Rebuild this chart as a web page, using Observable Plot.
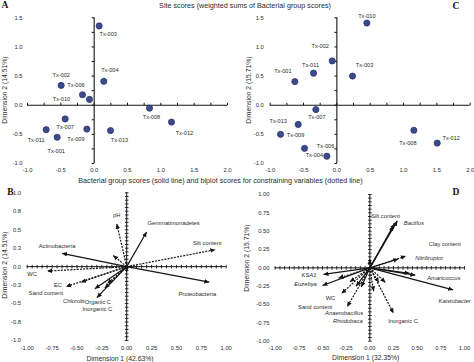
<!DOCTYPE html>
<html><head><meta charset="utf-8">
<script src="https://cdn.jsdelivr.net/npm/d3@7"></script>
<script src="https://cdn.jsdelivr.net/npm/@observablehq/plot@0.6"></script>
<style>
body{margin:0;background:#fff;}
#root{position:relative;width:474px;height:362px;overflow:hidden;background:#fff;font-family:"Liberation Sans",Arial,sans-serif;color:#2b2b2b;}
.panel{position:absolute;}
.t{position:absolute;white-space:nowrap;line-height:1;transform:translate(-50%,-50%);}
.v{transform:translate(-50%,-50%) rotate(-90deg);}
.letter{font-family:"Liberation Serif","Times New Roman",serif;font-weight:bold;color:#111;}
</style></head><body><div id="root"></div>
<script>
// ---------- data ----------
const siteNames = ["Tx-001","Tx-002","Tx-003","Tx-004","Tx-006","Tx-007","Tx-008","Tx-009","Tx-010","Tx-011","Tx-012","Tx-013"];
const siteDim1A = [-0.555,-0.495,0.075,0.145,-0.175,-0.435,0.83,-0.11,-0.07,-0.72,1.16,0.245];
const siteDim2A = [-0.55,0.34,1.36,0.41,0.18,-0.235,-0.05,-0.41,0.10,-0.42,-0.29,-0.435];
const siteDim1C = [-0.63,-0.07,0.235,-0.15,-0.485,-0.315,1.155,-0.845,0.45,-0.35,1.505,-0.58];
const siteDim2C = [0.405,0.76,0.50,-0.875,-0.74,-0.075,-0.43,-0.50,1.41,0.55,-0.65,-0.33];

const groupNamesB = ["Actinobacteria","Gemmatimonadetes","Proteobacteria","Chlorobi",""];
const groupDim1B  = [-0.65,0.20,0.83,-0.30,-0.32];
const groupDim2B  = [0.18,0.47,-0.21,-0.42,-0.30];
const varNamesB = ["pH","Silt content","WC","EC","Sand content","Organic C","Inorganic C","",""];
const varDim1B  = [-0.10,0.89,-0.80,-0.61,-0.46,-0.22,-0.195,-0.135,0.0];
const varDim2B  = [0.58,0.23,-0.06,-0.27,-0.21,-0.29,-0.23,0.15,-0.07];

const groupNamesD = ["Bacillus","Nitriliruptor","Amaricoccus","Kaistobacter","KSA1","Euzebya","Anaerobacillus","Rhodobaca","",""];
const groupDim1D  = [0.29,0.30,0.48,0.88,-0.49,-0.50,-0.145,-0.09,0.26,0.42];
const groupDim2D  = [0.64,0.12,-0.10,-0.30,-0.09,-0.24,-0.25,-0.26,0.60,-0.075];
const varNamesD = ["Silt content","Clay content","WC","Sand content","Inorganic C","","","","","",""];
const varDim1D  = [0.25,0.38,-0.30,-0.24,0.25,-0.21,0.04,0.095,0.165,-0.33,0.0];
const varDim2D  = [0.57,0.16,-0.35,-0.53,-0.62,-0.19,-0.32,-0.20,-0.20,-0.14,0.12];

const siteXTicks = [-1,-0.5,0,0.5,1,1.5,2];
const siteXTickLabels = ["-1.0","-0.5","0.0","0.5","1.0","1.5","2.0"];
const siteYTicks = [-1,-0.5,0,0.5,1,1.5];
const siteYTickLabels = ["-1.0","-0.5","0.0","0.5","1.0","1.5"];
const bipTicks = [-1,-0.75,-0.5,-0.25,0,0.25,0.5,0.75,1];
const bipTickLabels2 = ["-1.00","-0.75","-0.50","-0.25","0.00","0.25","0.50","0.75","1.00"];
const bipYTickLabelsB = ["-1.0","-0.8","-0.5","-0.3","0.0","0.3","0.5","0.8","1.0"];

const titleTop = "Site scores (weighted sums of Bacterial group scores)";
const titleMid = "Bacterial group scores (solid line) and biplot scores for constraining variables (dotted line)";
const yTitleB = "Dimension 2 (14.51%)";
const yTitleD = "Dimension 2 (15.71%)";
const xTitleB = "Dimension 1 (42.63%)";
const xTitleD = "Dimension 1 (32.35%)";

// ---------- label placement (pixel offsets, style only) ----------
const siteLabelOffsetA = {"Tx-001":[-1,13.5],"Tx-002":[0,-10.5],"Tx-003":[9,8],"Tx-004":[6,-11],"Tx-006":[-6.5,-9.5],"Tx-007":[0,8.5],"Tx-008":[2,9.5],"Tx-009":[-11,10.5],"Tx-010":[-28,-0.5],"Tx-011":[-10,11],"Tx-012":[13,11],"Tx-013":[9,9.5]};
const siteLabelOffsetC = {"Tx-001":[-12,-10],"Tx-002":[-12,-15],"Tx-003":[12,-11],"Tx-004":[-12.5,-1],"Tx-006":[21,-2.5],"Tx-007":[1,7.5],"Tx-008":[-6,12.5],"Tx-009":[15,1],"Tx-010":[0,-7],"Tx-011":[-3,-8],"Tx-012":[14,-5],"Tx-013":[-20,-3]};
const labelOffsetB = {"Actinobacteria":[-5,-7],"Gemmatimonadetes":[27,-9],"Proteobacteria":[-12,11.5],"Chlorobi":[-23,3],"pH":[0,-9],"Silt content":[-8,-7],"WC":[-15,3],"EC":[-8,-1],"Sand content":[-35,10.5],"Organic C":[-7,14],"Inorganic C":[-10,26]};
const labelOffsetD = {"Bacillus":[16.5,2.5],"Silt content":[-8,-10],"Nitriliruptor":[31,-1],"Clay content":[39,-12],"Amaricoccus":[28.5,2.5],"Kaistobacter":[1.5,11.5],"KSA1":[-14.5,0.5],"Euzebya":[-17,-1],"WC":[-11,5],"Sand content":[-32,0],"Anaerobacillus":[-12,27],"Rhodobaca":[-13.5,34],"Inorganic C":[9.5,8]};

// ---------- helpers ----------
const root = document.getElementById("root");
const INK = "#151515";
const rOf = size => Math.sqrt(size / Math.PI);
const tickUp = {draw(c, s){const r=rOf(s); c.moveTo(0,0); c.lineTo(0,-r);}};
const tickLeft = {draw(c, s){const r=rOf(s); c.moveTo(0,0); c.lineTo(-r,0);}};
const tickV = {draw(c, s){const r=rOf(s); c.moveTo(0,-r); c.lineTo(0,r);}};
const tickH = {draw(c, s){const r=rOf(s); c.moveTo(-r,0); c.lineTo(r,0);}};
const fmt = (vals, labels) => { const m = new Map(vals.map((v,i)=>[v, labels[i]])); return d => m.get(d); };

function addText(text, cx, cy, size, cls = "", extra = {}) {
  const d = document.createElement("div");
  d.className = "t " + cls;
  d.textContent = text;
  d.style.left = cx + "px"; d.style.top = cy + "px"; d.style.fontSize = size + "px";
  Object.assign(d.style, extra);
  root.appendChild(d);
}
function place(svg, left, top) {
  const wrap = document.createElement("div");
  wrap.className = "panel";
  wrap.style.left = left + "px"; wrap.style.top = top + "px";
  wrap.appendChild(svg);
  root.appendChild(wrap);
}
function fixMarkers(svg) {
  svg.querySelectorAll("marker").forEach(m => {
    const col = m.getAttribute("stroke") || INK;
    m.setAttribute("viewBox", "-5 -5 10 10");
    m.setAttribute("markerUnits", "userSpaceOnUse");
    m.setAttribute("markerWidth", 10);
    m.setAttribute("markerHeight", 10);
    m.setAttribute("fill", col);
    m.setAttribute("stroke", "none");
    m.setAttribute("stroke-dasharray", "none");
    const p = m.querySelector("path");
    p.setAttribute("d", "M-5,-2.3L0,0L-5,2.3Z");
    p.setAttribute("stroke", "none");
    p.setAttribute("fill", col);
  });
}
const svgStyle = {fontFamily: "'Liberation Sans', Arial, sans-serif", fontSize: "5.8px", color: "#2b2b2b", background: "transparent", overflow: "visible"};

// ---------- site score panels (A, C) ----------
function sitePanel(d1, d2, offsets, box) {
  const data = siteNames.map((n,i)=>({name:n, x:d1[i], y:d2[i]}));
  const xMinor = d3.range(-1, 2.001, 0.25);
  const yMinor = d3.range(-1, 1.501, 0.25);
  const svg = Plot.plot({
    width: box.width, height: box.height,
    marginLeft: box.ml, marginRight: box.mr, marginTop: box.mt, marginBottom: box.mb,
    style: svgStyle,
    x: {domain: [-1, 2], ticks: siteXTicks, tickFormat: fmt(siteXTicks, siteXTickLabels), tickSize: 0, tickPadding: box.xpad, label: null},
    y: {domain: [-1, 1.5], ticks: siteYTicks, tickFormat: fmt(siteYTicks, siteYTickLabels), tickSize: 0, tickPadding: box.ypad, label: null},
    marks: [
      Plot.ruleY([0], {x1: () => -1, x2: () => 2, stroke: INK, strokeWidth: 1.1}),
      Plot.ruleX([0], {y1: () => -1, y2: () => 1.5, stroke: INK, strokeWidth: 1.1}),
      Plot.dot(xMinor, {x: d => d, y: () => 0, symbol: tickUp, r: 2.5, stroke: INK, fill: "none", strokeWidth: 1}),
      Plot.dot(yMinor, {x: () => 0, y: d => d, symbol: tickLeft, r: 2.5, stroke: INK, fill: "none", strokeWidth: 1}),
      Plot.dot(data, {x: "x", y: "y", r: 3.1, fill: "#3d4b8e", stroke: "#222c63", strokeWidth: 0.7}),
      ...data.map(d => Plot.text([d], {x: "x", y: "y", text: "name", dx: offsets[d.name][0], dy: offsets[d.name][1], fontSize: 5.6, fill: "#2b2b2b"}))
    ]
  });
  place(svg, box.left, box.top);
}

// ---------- biplot panels (B, D) ----------
function biplotPanel(gNames, gd1, gd2, vNames, vd1, vd2, offsets, yLabels, italicGroups, box) {
  const groups = gNames.map((n,i)=>({name:n, x:gd1[i], y:gd2[i]}));
  const vars = vNames.map((n,i)=>({name:n, x:vd1[i], y:vd2[i]}));
  const minor = d3.range(-1, 1.001, 0.05);
  const svg = Plot.plot({
    width: box.width, height: box.height,
    marginLeft: box.ml, marginRight: box.mr, marginTop: box.mt, marginBottom: box.mb,
    style: svgStyle,
    x: {domain: [-1, 1], ticks: bipTicks, tickFormat: fmt(bipTicks, bipTickLabels2), tickSize: 0, tickPadding: box.xpad, label: null},
    y: {domain: [-1, 1], ticks: bipTicks, tickFormat: fmt(bipTicks, yLabels), tickSize: 0, tickPadding: box.ypad, label: null},
    marks: [
      Plot.ruleY([0], {x1: () => -1, x2: () => 1, stroke: INK, strokeWidth: 1}),
      Plot.ruleX([0], {y1: () => -1, y2: () => 1, stroke: INK, strokeWidth: 1}),
      Plot.dot(minor, {x: d => d, y: () => 0, symbol: tickV, r: 1.8, stroke: INK, fill: "none", strokeWidth: 0.9}),
      Plot.dot(minor, {x: () => 0, y: d => d, symbol: tickH, r: 1.8, stroke: INK, fill: "none", strokeWidth: 0.9}),
      Plot.link(vars, {x1: () => 0, y1: () => 0, x2: "x", y2: "y", stroke: INK, strokeWidth: 1.2, strokeDasharray: "2,1.2", markerEnd: "arrow"}),
      Plot.link(groups, {x1: () => 0, y1: () => 0, x2: "x", y2: "y", stroke: INK, strokeWidth: 1.2, markerEnd: "arrow"}),
      ...vars.filter(d => d.name).map(d => Plot.text([d], {x: "x", y: "y", text: "name", dx: offsets[d.name][0], dy: offsets[d.name][1], fontSize: 5.8, fill: "#2b2b2b"})),
      ...groups.filter(d => d.name).map(d => Plot.text([d], {x: "x", y: "y", text: "name", dx: offsets[d.name][0], dy: offsets[d.name][1], fontSize: 5.8, fill: "#2b2b2b", fontStyle: italicGroups ? "italic" : "normal"}))
    ]
  });
  fixMarkers(svg);
  place(svg, box.left, box.top);
}

sitePanel(siteDim1A, siteDim2A, siteLabelOffsetA, {left: 0, top: 0, width: 237, height: 175, ml: 27, mr: 10, mt: 17.3, mb: 12, xpad: 4, ypad: 5});
sitePanel(siteDim1C, siteDim2C, siteLabelOffsetC, {left: 237, top: 0, width: 237, height: 175, ml: 32.7, mr: 4.3, mt: 17.3, mb: 12, xpad: 4, ypad: 6.4});
biplotPanel(groupNamesB, groupDim1B, groupDim2B, varNamesB, varDim1B, varDim2B, labelOffsetB, bipYTickLabelsB, false,
  {left: 0, top: 185, width: 237, height: 177, ml: 26.7, mr: 11.3, mt: 7.3, mb: 22, xpad: 5.7, ypad: 6.2});
biplotPanel(groupNamesD, groupDim1D, groupDim2D, varNamesD, varDim1D, varDim2D, labelOffsetD, bipTickLabels2, true,
  {left: 237, top: 185, width: 237, height: 177, ml: 37.7, mr: 10, mt: 9, mb: 21.3, xpad: 5, ypad: 5.7});

// ---------- titles, axis titles, panel letters ----------
addText(titleTop, 245, 5.5, 7.2);
addText(titleMid, 220.5, 181, 7.2);
addText(yTitleB, 5, 90, 6.8, "v");
addText(yTitleD, 249, 90, 6.8, "v");
addText(yTitleB, 5, 265, 6.8, "v");
addText(yTitleD, 247.3, 258, 6.8, "v");
addText(xTitleB, 120, 359, 6.8);
addText(xTitleD, 365.7, 357.7, 6.8);
addText("A", 5, 6, 9.5, "letter");
addText("C", 456, 6.5, 9.5, "letter");
addText("B", 10.5, 192.5, 9.5, "letter");
addText("D", 456, 193, 9.5, "letter");
</script></body></html>
